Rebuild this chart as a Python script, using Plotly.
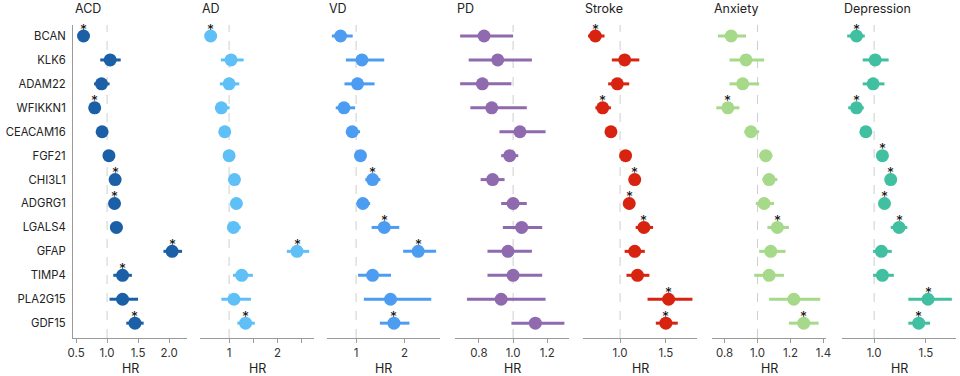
import plotly.graph_objects as go

proteins = ["BCAN", "KLK6", "ADAM22", "WFIKKN1", "CEACAM16", "FGF21", "CHI3L1",
            "ADGRG1", "LGALS4", "GFAP", "TIMP4", "PLA2G15", "GDF15"]
outcomes = ["ACD", "AD", "VD", "PD", "Stroke", "Anxiety", "Depression"]

acd_hr = [0.62, 1.05, 0.91, 0.80, 0.92, 1.03, 1.13, 1.12, 1.15, 2.05, 1.25, 1.25, 1.45]
acd_lo = [0.57, 0.89, 0.79, 0.71, 0.87, 0.98, 1.07, 1.06, 1.05, 1.91, 1.10, 1.04, 1.31]
acd_hi = [0.67, 1.22, 1.04, 0.89, 0.97, 1.08, 1.19, 1.19, 1.25, 2.21, 1.40, 1.50, 1.59]
acd_sig = [1, 0, 0, 1, 0, 0, 1, 1, 0, 1, 1, 0, 1]

ad_hr = [0.62, 1.04, 1.00, 0.84, 0.91, 1.00, 1.11, 1.15, 1.09, 2.40, 1.26, 1.10, 1.34]
ad_lo = [0.51, 0.83, 0.81, 0.71, 0.85, 0.95, 1.05, 1.09, 0.97, 2.19, 1.08, 0.84, 1.17]
ad_hi = [0.75, 1.30, 1.21, 1.01, 0.97, 1.05, 1.17, 1.21, 1.24, 2.65, 1.49, 1.45, 1.53]
ad_sig = [1, 0, 0, 0, 0, 0, 0, 0, 0, 1, 0, 0, 1]

vd_hr = [0.68, 1.12, 1.03, 0.75, 0.92, 1.09, 1.34, 1.14, 1.58, 2.28, 1.34, 1.71, 1.78]
vd_lo = [0.50, 0.79, 0.76, 0.58, 0.79, 1.03, 1.19, 1.01, 1.32, 1.97, 1.04, 1.16, 1.49]
vd_hi = [0.93, 1.58, 1.38, 0.98, 1.08, 1.15, 1.50, 1.29, 1.89, 2.65, 1.72, 2.55, 2.10]
vd_sig = [0, 0, 0, 0, 0, 0, 1, 0, 1, 1, 0, 0, 1]

pd_hr = [0.83, 0.91, 0.82, 0.875, 1.04, 0.98, 0.88, 1.00, 1.05, 0.97, 1.00, 0.93, 1.13]
pd_lo = [0.69, 0.74, 0.69, 0.75, 0.92, 0.93, 0.81, 0.93, 0.94, 0.85, 0.85, 0.73, 0.99]
pd_hi = [1.00, 1.11, 0.99, 1.08, 1.19, 1.03, 0.95, 1.08, 1.17, 1.11, 1.17, 1.19, 1.30]
pd_sig = [0, 0, 0, 0, 0, 0, 0, 0, 0, 0, 0, 0, 0]

stroke_hr = [0.73, 1.05, 0.97, 0.81, 0.90, 1.06, 1.16, 1.10, 1.26, 1.16, 1.19, 1.53, 1.50]
stroke_lo = [0.65, 0.91, 0.87, 0.73, 0.85, 1.01, 1.10, 1.05, 1.17, 1.05, 1.07, 1.30, 1.39]
stroke_hi = [0.83, 1.21, 1.10, 0.90, 0.95, 1.11, 1.22, 1.16, 1.36, 1.27, 1.32, 1.79, 1.63]
stroke_sig = [1, 0, 0, 1, 0, 0, 1, 1, 1, 0, 0, 1, 1]

anx_hr = [0.84, 0.93, 0.91, 0.82, 0.96, 1.05, 1.07, 1.04, 1.12, 1.08, 1.07, 1.22, 1.28]
anx_lo = [0.76, 0.83, 0.83, 0.75, 0.92, 1.01, 1.03, 0.99, 1.06, 1.01, 0.98, 1.07, 1.19]
anx_hi = [0.93, 1.04, 1.01, 0.89, 1.01, 1.09, 1.12, 1.10, 1.19, 1.17, 1.16, 1.38, 1.37]
anx_sig = [0, 0, 0, 1, 0, 0, 0, 0, 1, 0, 0, 0, 1]

dep_hr = [0.83, 1.01, 0.99, 0.83, 0.92, 1.08, 1.16, 1.10, 1.24, 1.07, 1.08, 1.52, 1.43]
dep_lo = [0.74, 0.89, 0.89, 0.75, 0.87, 1.03, 1.11, 1.05, 1.16, 0.99, 0.99, 1.33, 1.33]
dep_hi = [0.91, 1.14, 1.10, 0.90, 0.96, 1.13, 1.21, 1.15, 1.32, 1.17, 1.19, 1.75, 1.54]
dep_sig = [1, 0, 0, 1, 0, 1, 1, 1, 1, 0, 0, 1, 1]

tick_vals = [[0.5, 1.0, 1.5, 2.0], [1, 1.5, 2, 2.5], [1, 2], [0.8, 1.0, 1.2],
             [1.0, 1.5], [0.8, 1.0, 1.2, 1.4], [1.0, 1.5]]
tick_text = [["0.5", "1.0", "1.5", "2.0"], ["1", "", "2", ""], ["1", "2"],
             ["0.8", "1.0", "1.2"], ["1.0", "1.5"], ["0.8", "1.0", "1.2", "1.4"],
             ["1.0", "1.5"]]

# ---- styling / layout ----
colors = ["#1b5fa6", "#5ec0f7", "#4c9df2", "#8f6aae", "#d7230f", "#a6d98a", "#40c0a0"]
x_ranges = [[0.45, 2.29], [0.40, 2.75], [0.40, 2.73], [0.66, 1.327],
            [0.595, 1.84], [0.724, 1.415], [0.69, 1.79]]
panel_px = [(73, 187), (200, 314), (327, 440), (455, 569), (583, 697), (712, 826), (842, 956)]
W, H = 960, 376
y_top_px, y_bot_px = 25, 338

series = [(acd_hr, acd_lo, acd_hi, acd_sig), (ad_hr, ad_lo, ad_hi, ad_sig),
          (vd_hr, vd_lo, vd_hi, vd_sig), (pd_hr, pd_lo, pd_hi, pd_sig),
          (stroke_hr, stroke_lo, stroke_hi, stroke_sig), (anx_hr, anx_lo, anx_hi, anx_sig),
          (dep_hr, dep_lo, dep_hi, dep_sig)]

FONT = "Inter, Roboto, Arial, sans-serif"
fig = go.Figure()
annotations = []
shapes = []
layout = {}

for i, (name, (hr, lo, hi, sig)) in enumerate(zip(outcomes, series)):
    ax = "x" if i == 0 else f"x{i+1}"
    axkey = "xaxis" if i == 0 else f"xaxis{i+1}"
    fig.add_trace(go.Scatter(
        x=hr, y=proteins, xaxis=ax, yaxis="y", mode="markers",
        marker=dict(size=13, color=colors[i], line=dict(width=0)),
        error_x=dict(type="data", symmetric=False,
                     array=[h - m for h, m in zip(hi, hr)],
                     arrayminus=[m - l for m, l in zip(hr, lo)],
                     color=colors[i], thickness=3, width=0),
        showlegend=False, hoverinfo="skip"))
    for p, v, s in zip(proteins, hr, sig):
        if s:
            annotations.append(dict(x=v, y=p, xref=ax, yref="y", text="*",
                                    showarrow=False, yshift=7,
                                    font=dict(size=14, color="#111", family=FONT)))
    x0, x1 = panel_px[i]
    layout[axkey] = dict(domain=[x0 / W, x1 / W], range=x_ranges[i], anchor="y",
                         showgrid=False, zeroline=False, showline=True,
                         linecolor="#9a9a9a", linewidth=1, ticks="outside",
                         ticklen=4, tickcolor="#9a9a9a",
                         tickvals=tick_vals[i], ticktext=tick_text[i],
                         tickfont=dict(size=11.5, color="#333", family=FONT),
                         automargin=False, fixedrange=True)
    shapes.append(dict(type="line", xref=ax, yref="y domain", x0=1, x1=1, y0=0, y1=1,
                       line=dict(color="#cfcfcf", width=1, dash="dash"), layer="below"))
    annotations.append(dict(x=0, xref=f"{ax} domain", xanchor="left",
                            y=1 - 8 / H, yref="paper", yanchor="middle",
                            text=name, showarrow=False,
                            font=dict(size=12.5, color="#222", family=FONT)))
    annotations.append(dict(x=0.5, xref=f"{ax} domain", xanchor="center",
                            y=1 - 368 / H, yref="paper", yanchor="middle",
                            text="HR", showarrow=False,
                            font=dict(size=12.5, color="#222", family=FONT)))

layout["yaxis"] = dict(type="category", categoryorder="array", categoryarray=proteins,
                       range=[12.62, -0.46], domain=[1 - y_bot_px / H, 1 - y_top_px / H],
                       anchor="x", showgrid=False, zeroline=False, showline=True,
                       linecolor="#9a9a9a", linewidth=1, ticks="", ticklabelstandoff=4,
                       tickfont=dict(size=11.3, color="#222", family=FONT),
                       automargin=False, fixedrange=True)

fig.update_layout(width=W, height=H, margin=dict(l=0, r=0, t=0, b=0),
                  template="none", plot_bgcolor="white", paper_bgcolor="white",
                  annotations=annotations, shapes=shapes,
                  font=dict(family=FONT), **layout)

fig.write_html("out.html", config={"displayModeBar": False, "staticPlot": True},
               post_script="document.body.style.margin='0';document.body.style.padding='0';"
                           "document.documentElement.style.overflow='hidden';")
